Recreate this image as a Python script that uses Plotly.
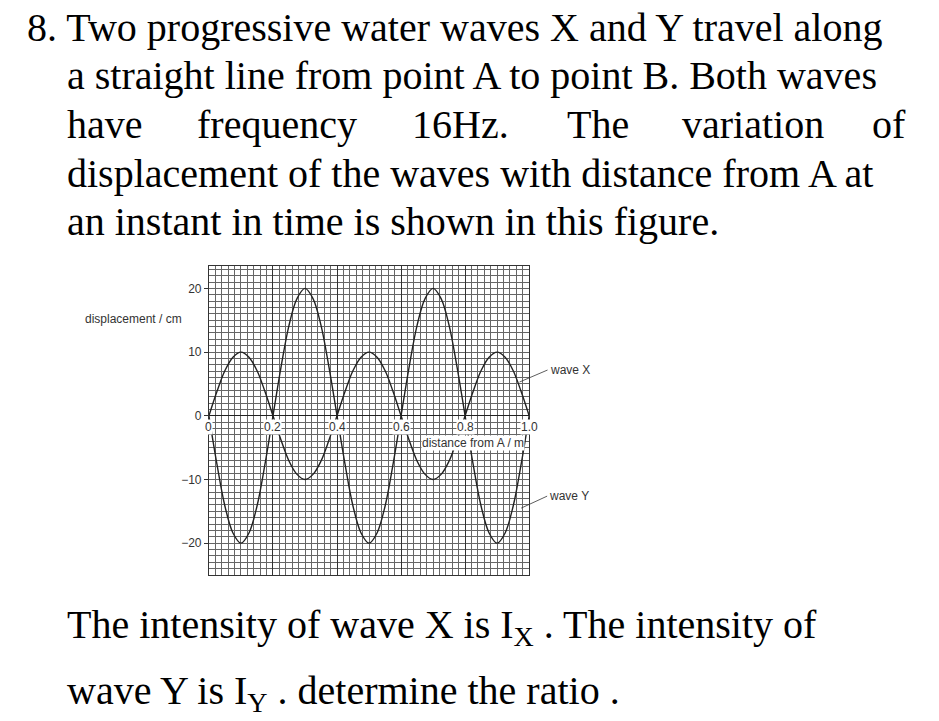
import plotly.graph_objects as go

dist = [i * 0.025 for i in range(41)]
wave_x = [0, 3.8, 7.1, 9.2, 10, 9.2, 7.1, 3.8, 0, -3.8, -7.1, -9.2, -10, -9.2, -7.1, -3.8,
          0, 3.8, 7.1, 9.2, 10, 9.2, 7.1, 3.8, 0, -3.8, -7.1, -9.2, -10, -9.2, -7.1, -3.8,
          0, 3.8, 7.1, 9.2, 10, 9.2, 7.1, 3.8, 0]
wave_y = [0, -7.6, -14.2, -18.4, -20, -18.4, -14.2, -7.6, 0, 7.6, 14.2, 18.4, 20, 18.4, 14.2, 7.6,
          0, -7.6, -14.2, -18.4, -20, -18.4, -14.2, -7.6, 0, 7.6, 14.2, 18.4, 20, 18.4, 14.2, 7.6,
          0, -7.6, -14.2, -18.4, -20, -18.4, -14.2, -7.6, 0]
x_tick_vals = [0, 0.2, 0.4, 0.6, 0.8, 1.0]
x_tick_text = ["0", "0.2", "0.4", "0.6", "0.8", "1.0"]
y_tick_vals = [20, 10, 0, -10, -20]
y_tick_text = ["20", "10", "0", "\u221210", "\u221220"]

sans = dict(family="Liberation Sans", size=12, color="#333")

fig = go.Figure()
line = dict(color="#222", width=1.4, shape="spline", smoothing=1.0)
fig.add_trace(go.Scatter(x=dist, y=wave_x, mode="lines", line=line))
fig.add_trace(go.Scatter(x=dist, y=wave_y, mode="lines", line=line))

fig.update_layout(
    width=939, height=721, margin=dict(l=0, r=0, t=0, b=0),
    paper_bgcolor="white", plot_bgcolor="white", showlegend=False,
    xaxis=dict(domain=[0.214, 0.555], range=[0, 1.0], tickvals=x_tick_vals,
               showticklabels=False, showgrid=True, gridcolor="#333", gridwidth=1,
               minor=dict(dtick=0.02, showgrid=True, gridcolor="#666", gridwidth=0.7),
               zeroline=False, showline=True, linecolor="#333", mirror=True),
    yaxis=dict(domain=[0.2136, 0.642], range=[-25, 23.5], tickvals=y_tick_vals,
               ticktext=y_tick_text, ticks="outside", ticklen=4, tickcolor="#333",
               tickfont=sans, showgrid=False,
               minor=dict(dtick=1, showgrid=True, gridcolor="#666", gridwidth=0.7),
               zeroline=True, zerolinecolor="#222", zerolinewidth=1.2,
               showline=True, linecolor="#333", mirror=True),
)

ann = []
for v, t in zip(x_tick_vals, x_tick_text):
    ann.append(dict(x=v, y=-0.5, xref="x", yref="y", text=t, showarrow=False,
                    xanchor="center", yanchor="top", font=sans,
                    bgcolor="white", borderpad=0))
ann.append(dict(x=0.825, y=-4.2, xref="x", yref="y", text="distance from A / m",
                showarrow=False, bgcolor="white", borderpad=0, font=sans))
ann.append(dict(x=176 / 939, y=1 - 311 / 721, xref="paper", yref="paper",
                text="displacement / cm", showarrow=False, xanchor="right", font=sans))
ann.append(dict(x=0.97, y=5.3, xref="x", yref="y", ax=28, ay=-12, text="wave X",
                showarrow=True, arrowhead=0, arrowwidth=0.8, arrowcolor="#333",
                xanchor="left", font=sans))
ann.append(dict(x=0.975, y=-14.5, xref="x", yref="y", ax=26, ay=-12, text="wave Y",
                showarrow=True, arrowhead=0, arrowwidth=0.8, arrowcolor="#333",
                xanchor="left", font=sans))

serif = dict(family="Liberation Serif", size=40, color="black")
def txt(x, y, s):
    ann.append(dict(x=x / 939, y=1 - y / 721, xref="paper", yref="paper", text=s,
                    showarrow=False, xanchor="left", yanchor="middle", font=serif))

txt(17, 20, "8. Two progressive water waves X and Y travel along")
txt(57, 68, "a straight line from point A to point B. Both waves")
for x, w in [(57, "have"), (187, "frequency"), (402, "16Hz."), (557, "The"), (672, "variation"), (862, "of")]:
    txt(x, 116, w)
txt(57, 165, "displacement of the waves with distance from A at")
txt(57, 214, "an instant in time is shown in this figure.")
txt(57, 619, "The intensity of wave X is I<sub>X</sub> . The intensity of")
txt(57, 685, "wave Y is I<sub>Y</sub> . determine the ratio .")

fig.update_layout(annotations=ann)
fig.write_html("out.html")
